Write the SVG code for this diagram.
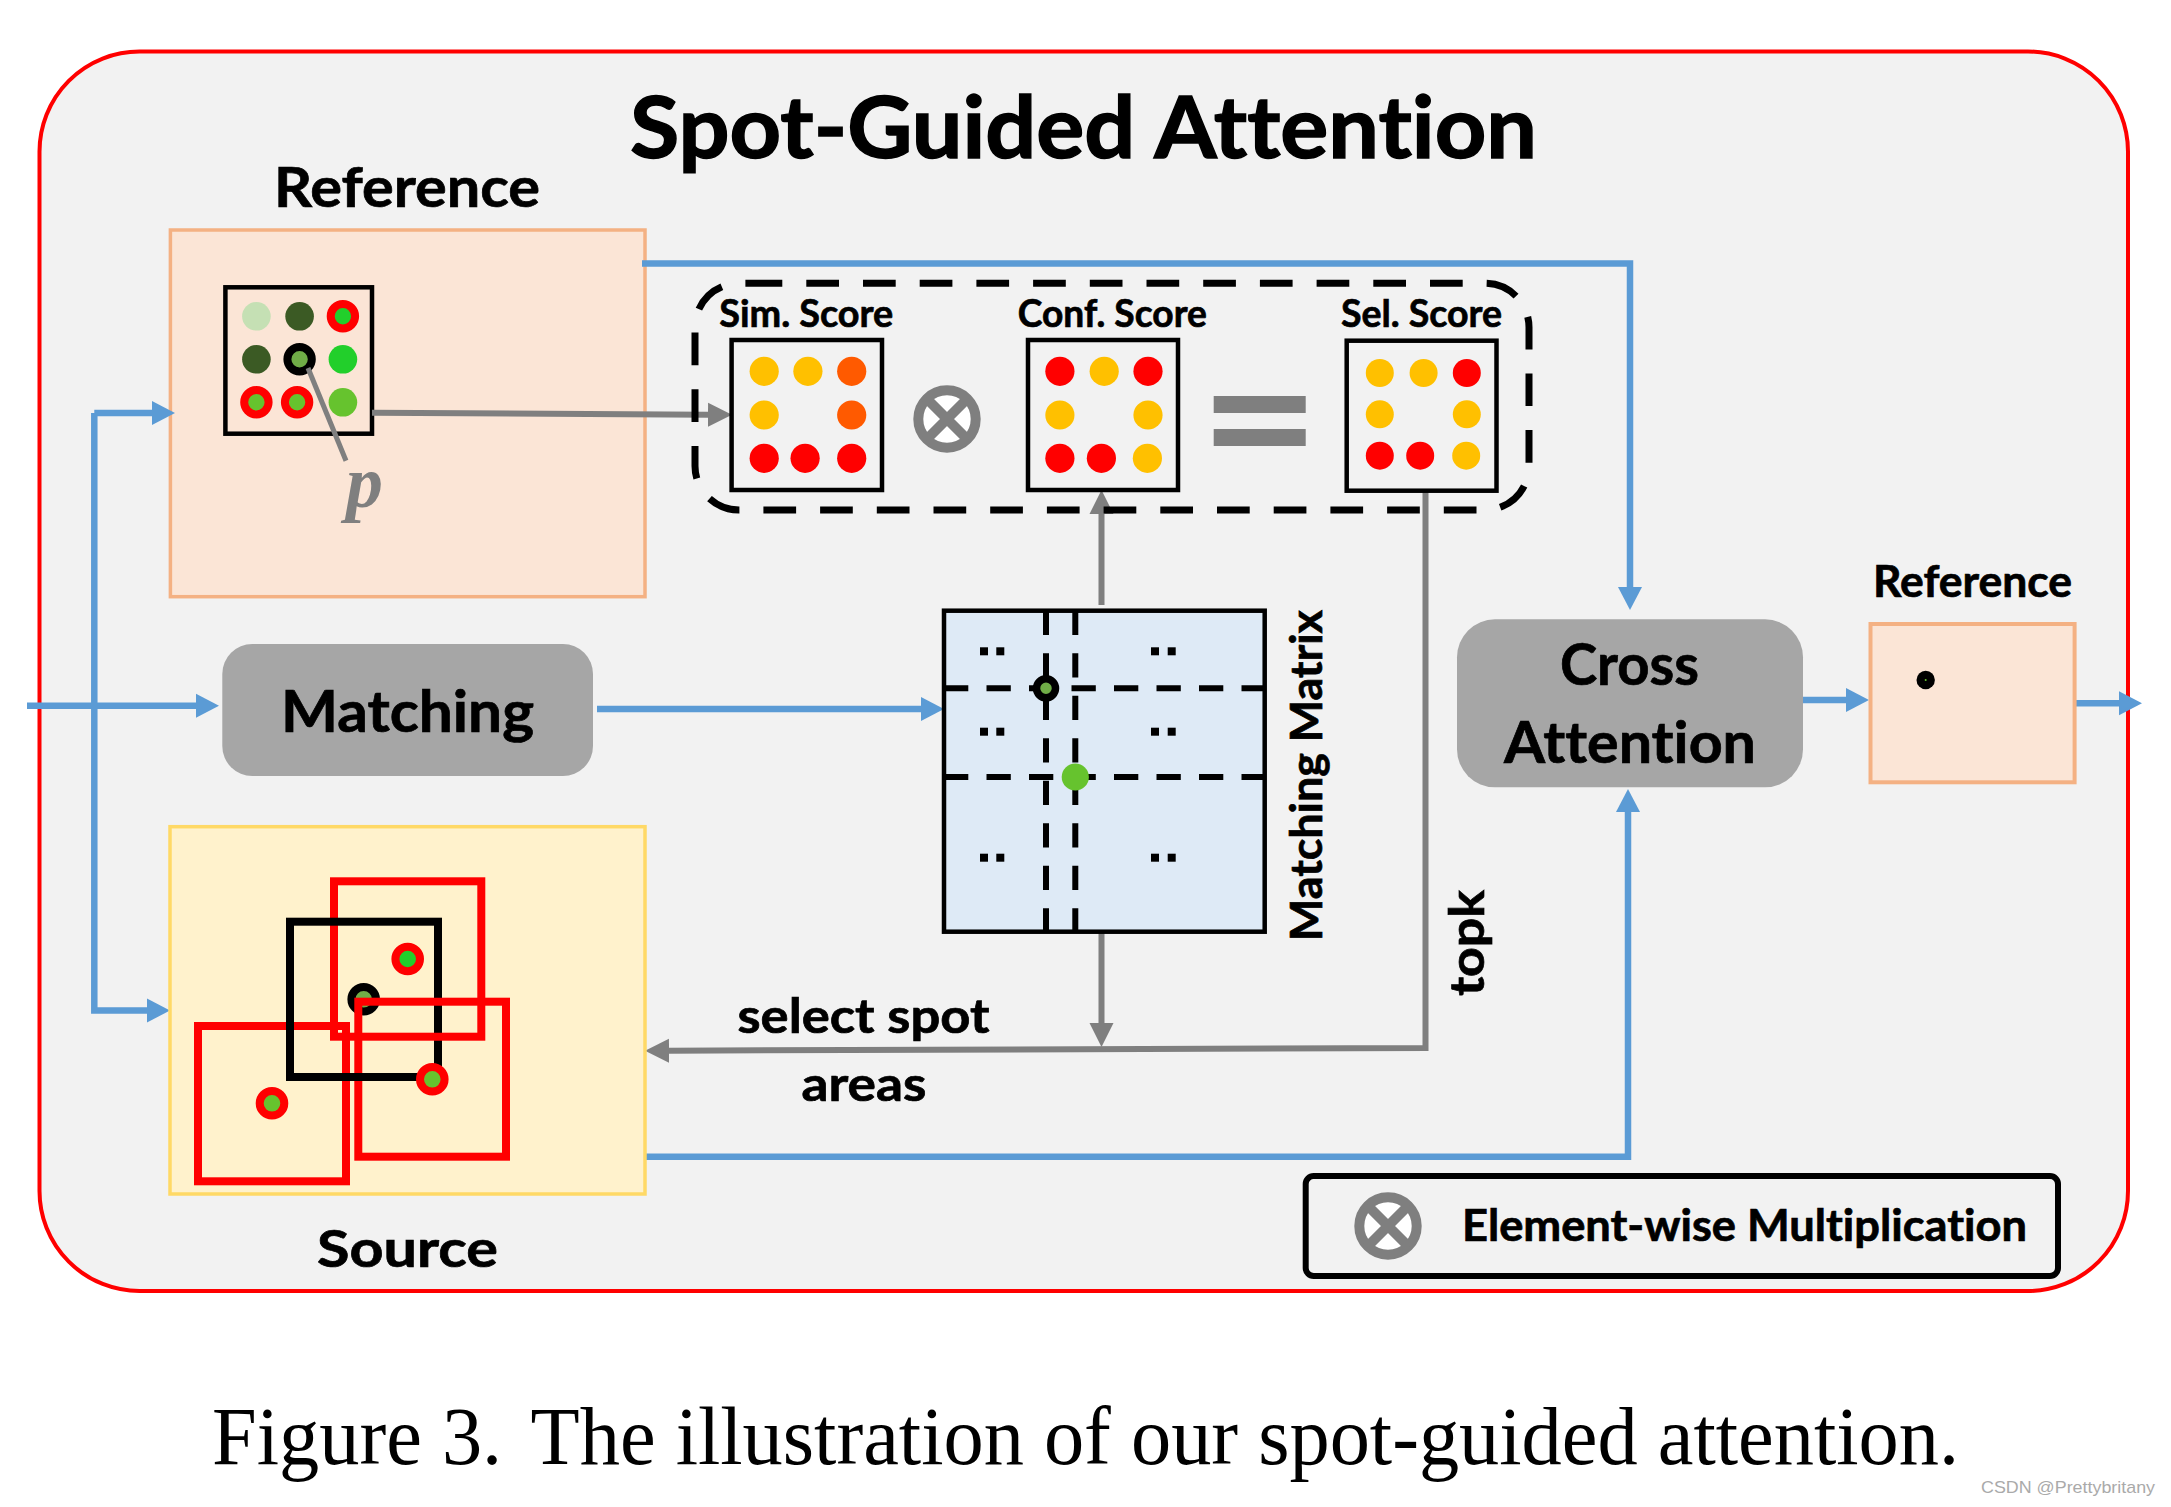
<svg xmlns="http://www.w3.org/2000/svg" width="2171" height="1507" viewBox="0 0 2171 1507">
<style>
.t{font-family:"Lato","Open Sans","Liberation Sans",sans-serif;font-weight:700;fill:#000;stroke:#000;stroke-width:.7;font-variant-ligatures:none}
.c{fill:none;stroke-linejoin:miter}
.b{stroke:#5b9bd5;stroke-width:6.5}
.g{stroke:#7f7f7f;stroke-width:6}
.peach{fill:#fbe5d6;stroke:#f4b183}
.blk{fill:none;stroke:#000;stroke-width:4.5}
.y{fill:#ffc000}.r{fill:#f00}.o{fill:#ff5a00}
.ringr{fill:#66c32e;stroke:#f00;stroke-width:8}
.ringk{fill:#70ad47;stroke:#000;stroke-width:8}
.sq{fill:#000}
.dash{stroke:#000;stroke-width:6;stroke-dasharray:24.3 18.2;fill:none}
</style>
<defs>
<marker id="ab" markerUnits="userSpaceOnUse" markerWidth="23" markerHeight="25" refX="0" refY="12.5" orient="auto"><path d="M0 .5L23 12.5L0 24.5Z" fill="#5b9bd5"/></marker>
<marker id="ag" markerUnits="userSpaceOnUse" markerWidth="24" markerHeight="25" refX="0" refY="12.5" orient="auto"><path d="M0 .5L24 12.5L0 24.5Z" fill="#7f7f7f"/></marker>
<g id="otimes"><circle r="28.7" fill="#fff" stroke="#7f7f7f" stroke-width="10"/><path d="M-21-21L21 21M21-21L-21 21" stroke="#7f7f7f" stroke-width="10" fill="none"/></g>
</defs>
<rect width="2171" height="1507" fill="#fff"/>
<g id="panel"><rect x="39.5" y="51.5" width="2088.5" height="1239.5" rx="100" fill="#f2f2f2" stroke="#f00" stroke-width="4"/>
<text class="t" x="630" y="158" font-size="86" textLength="907" lengthAdjust="spacingAndGlyphs" style="stroke-width:1.4">Spot-Guided Attention</text></g>

<g id="reference-top">
<rect class="peach" x="170.4" y="230" width="474.6" height="366.7" stroke-width="3.5"/>
<text class="t" x="274" y="207" font-size="56" textLength="266" lengthAdjust="spacingAndGlyphs">Reference</text>
<rect class="blk" x="225.4" y="287.3" width="146.6" height="146.4"/>
<circle cx="256.4" cy="316.3" r="14.3" fill="#c5e0b4"/><circle cx="299.6" cy="316.3" r="14.3" fill="#3b5a24"/>
<circle class="ringr" cx="342.9" cy="316.3" r="12.2" style="fill:#22cf2b"/>
<circle cx="256.4" cy="359.3" r="14.3" fill="#3b5a24"/>
<circle class="ringk" cx="299.6" cy="359.3" r="12.2"/>
<circle cx="342.9" cy="359.3" r="14.3" fill="#22cf2b"/>
<circle class="ringr" cx="256.4" cy="402.3" r="12.2"/><circle class="ringr" cx="297.1" cy="402.3" r="12.2"/>
<circle cx="342.9" cy="402.3" r="14.3" fill="#66c32e"/>
<path d="M308 368L346 460.7" stroke="#7f7f7f" stroke-width="5" fill="none"/>
<text x="346" y="507" font-family="Liberation Serif,serif" font-weight="700" font-style="italic" font-size="74" fill="#7f7f7f">p</text>
</g>

<g id="connectors" class="c">
<path class="b c" d="M27 705.7H196" marker-end="url(#ab)"/>
<path class="b c" d="M94.3 413H152" marker-end="url(#ab)"/>
<path class="b c" d="M94.3 413V1010.5H147" marker-end="url(#ab)"/>
<path class="b c" d="M597 709H921" marker-end="url(#ab)"/>
<path class="b c" d="M642 263.5H1630V587" marker-end="url(#ab)"/>
<path class="b c" d="M644 1156.7H1628V812" marker-end="url(#ab)"/>
<path class="b c" d="M1803 700H1846" marker-end="url(#ab)"/>
<path class="b c" d="M2074.6 703.3H2119" marker-end="url(#ab)"/>
<path class="g c" d="M372 412.7L708 414.7" marker-end="url(#ag)"/>
<path class="g c" d="M1101.5 605V514" marker-end="url(#ag)"/>
<path class="g c" d="M1101.5 931V1023" marker-end="url(#ag)"/>
<path class="g c" d="M1425.5 490V1048L669 1050.7" marker-end="url(#ag)"/>
</g>

<g id="score-group">
<path d="M749.6 283.3H1485A44 44 0 0 1 1529 327.3V466A44 44 0 0 1 1485 510H739A44 44 0 0 1 695 466V327.3A44 44 0 0 1 739 283.3Z" fill="none" stroke="#000" stroke-width="7" stroke-dasharray="32.7 24"/>
</g>
<g id="sim-score">
<text class="t" x="719.3" y="327" font-size="38" textLength="174" lengthAdjust="spacingAndGlyphs">Sim. Score</text>
<rect class="blk" x="731.6" y="340" width="150.4" height="150"/>
<circle class="y" cx="764.2" cy="371.3" r="14.6"/><circle class="y" cx="807.9" cy="371.3" r="14.6"/><circle class="o" cx="851.7" cy="371.3" r="14.6"/>
<circle class="y" cx="764.2" cy="415" r="14.6"/><circle class="o" cx="851.7" cy="415" r="14.6"/>
<circle class="r" cx="764.2" cy="458.3" r="14.6"/><circle class="r" cx="805.1" cy="458.3" r="14.6"/><circle class="r" cx="851.7" cy="458.3" r="14.6"/>
</g>
<use id="otimes-op" href="#otimes" x="947" y="419"/>
<g id="conf-score">
<text class="t" x="1017.8" y="327" font-size="38" textLength="189" lengthAdjust="spacingAndGlyphs">Conf. Score</text>
<rect class="blk" x="1028" y="340" width="150" height="150"/>
<circle class="r" cx="1059.9" cy="371.3" r="14.6"/><circle class="y" cx="1104.2" cy="371.3" r="14.6"/><circle class="r" cx="1148" cy="371.3" r="14.6"/>
<circle class="y" cx="1059.9" cy="415" r="14.6"/><circle class="y" cx="1148" cy="415" r="14.6"/>
<circle class="r" cx="1059.9" cy="458.3" r="14.6"/><circle class="r" cx="1101.4" cy="458.3" r="14.6"/><circle class="y" cx="1147.4" cy="458.3" r="14.6"/>
</g>
<g id="equals" fill="#7f7f7f"><rect x="1213.7" y="396" width="92" height="17"/><rect x="1213.7" y="429" width="92" height="17"/></g>
<g id="sel-score">
<text class="t" x="1341" y="327" font-size="38" textLength="161" lengthAdjust="spacingAndGlyphs">Sel. Score</text>
<rect class="blk" x="1346.7" y="340.7" width="149.8" height="150"/>
<circle class="y" cx="1379.8" cy="373" r="14"/><circle class="y" cx="1423.6" cy="373" r="14"/><circle class="r" cx="1466.8" cy="373" r="14"/>
<circle class="y" cx="1379.8" cy="414.3" r="14"/><circle class="y" cx="1466.8" cy="414.3" r="14"/>
<circle class="r" cx="1379.8" cy="455.7" r="14"/><circle class="r" cx="1420.2" cy="455.7" r="14"/><circle class="y" cx="1466.2" cy="455.7" r="14"/>
</g>

<g id="matching"><rect x="222.3" y="644" width="370.7" height="132" rx="30" fill="#a6a6a6"/>
<text class="t" x="281" y="732" font-size="57" textLength="253" lengthAdjust="spacingAndGlyphs">Matching</text></g>

<g id="matrix">
<rect x="944" y="610.7" width="320.7" height="321" fill="#deeaf6" stroke="#000" stroke-width="4.5"/>
<path class="dash" d="M1046 610.7V931.7M1075.3 610.7V931.7M944 688.3H1264.7M944 777H1264.7"/>
<g class="sq"><rect x="980" y="647.3" width="8" height="8"/><rect x="996.3" y="647.3" width="8" height="8"/><rect x="1151" y="647.3" width="8" height="8"/><rect x="1167.7" y="647.3" width="8" height="8"/>
<rect x="980" y="727.7" width="8" height="8"/><rect x="996.3" y="727.7" width="8" height="8"/><rect x="1151" y="727.7" width="8" height="8"/><rect x="1167.7" y="727.7" width="8" height="8"/>
<rect x="980" y="853.7" width="8" height="8"/><rect x="996.3" y="853.7" width="8" height="8"/><rect x="1151" y="853.7" width="8" height="8"/><rect x="1167.7" y="853.7" width="8" height="8"/></g>
<circle cx="1046" cy="688.3" r="9.5" fill="#70ad47" stroke="#000" stroke-width="7.5"/>
<circle cx="1075.3" cy="777" r="13.6" fill="#66c32e"/>
<text class="t" transform="translate(1322 941) rotate(-90)" font-size="44" textLength="331" lengthAdjust="spacingAndGlyphs">Matching Matrix</text>
</g>

<g id="source">
<rect x="170" y="826.7" width="475" height="367.3" fill="#fff2cc" stroke="#ffd966" stroke-width="3.5"/>
<circle class="ringk" cx="363.7" cy="999.3" r="12.3"/>
<g fill="none" stroke="#f00" stroke-width="8">
<rect x="334" y="881.3" width="147.3" height="155.4"/>
<rect x="198" y="1026" width="148" height="155.3"/>
<rect x="358.3" y="1001.7" width="147.7" height="155"/></g>
<rect x="290" y="921.7" width="148" height="155.3" fill="none" stroke="#000" stroke-width="8"/>
<path d="M434 1001.7h8M434 1036.7h8" stroke="#f00" stroke-width="8"/>
<circle class="ringr" cx="407.7" cy="959" r="12.3" style="fill:#22cf2b"/>
<circle class="ringr" cx="272" cy="1103.3" r="12.3"/>
<circle class="ringr" cx="432.3" cy="1079.3" r="12.3"/>
<text class="t" x="317" y="1267" font-size="52" textLength="181" lengthAdjust="spacingAndGlyphs">Source</text>
</g>

<g id="labels">
<text class="t" x="737.5" y="1033" font-size="48" textLength="252" lengthAdjust="spacingAndGlyphs">select spot</text>
<text class="t" x="801.5" y="1100.5" font-size="48" textLength="125" lengthAdjust="spacingAndGlyphs">areas</text>
<text class="t" transform="translate(1484 996) rotate(-90)" font-size="48" textLength="106" lengthAdjust="spacingAndGlyphs">topk</text>
</g>

<g id="cross-attention"><rect x="1457" y="619.3" width="346" height="168" rx="38" fill="#a6a6a6"/>
<text class="t" x="1560" y="685" font-size="58" textLength="139" lengthAdjust="spacingAndGlyphs">Cross</text>
<text class="t" x="1504" y="763" font-size="58" textLength="252" lengthAdjust="spacingAndGlyphs">Attention</text></g>

<g id="reference-out">
<text class="t" x="1873" y="597" font-size="44" textLength="199" lengthAdjust="spacingAndGlyphs">Reference</text>
<rect class="peach" x="1870.5" y="624" width="204.1" height="158.3" stroke-width="4"/>
<circle cx="1925.7" cy="680" r="9.2" fill="#000"/><circle cx="1925.7" cy="680" r="1" fill="#66c32e"/>
</g>

<g id="legend"><rect x="1305.7" y="1176" width="752.3" height="100" rx="8" fill="#f2f2f2" stroke="#000" stroke-width="6"/>
<use href="#otimes" x="1388" y="1226"/>
<text class="t" x="1462" y="1241" font-size="43" textLength="565" lengthAdjust="spacingAndGlyphs">Element-wise Multiplication</text></g>

<g id="caption">
<text x="212" y="1464" font-family="Liberation Serif,serif" font-size="82" fill="#000" textLength="1747" lengthAdjust="spacingAndGlyphs">Figure 3. <tspan dx="10">The illustration of our spot-guided attention.</tspan></text>
<text x="1981" y="1493" font-family="Liberation Sans,sans-serif" font-size="17" fill="#aaa" textLength="174" lengthAdjust="spacingAndGlyphs">CSDN @Prettybritany</text>
</g>
</svg>
